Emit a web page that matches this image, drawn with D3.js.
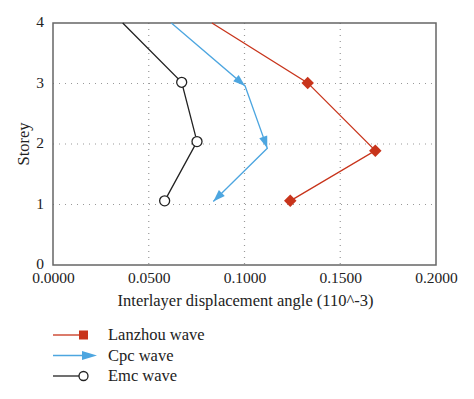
<!DOCTYPE html>
<html>
<head>
<meta charset="utf-8">
<script src="https://cdn.jsdelivr.net/npm/d3@7"></script>
<style>
  body { margin: 0; background: #fff; }
  text { font-family: "Liberation Serif", "DejaVu Serif", serif; fill: #222; }
</style>
</head>
<body>
<svg width="474" height="399"></svg>
<script>
// storeys and displacement angles
var storeys = [4, 3, 2, 1];
var lanzhou = [0.0830, 0.1330, 0.1683, 0.1239];
var lanzhouY = [4, 3.01, 1.89, 1.06];
var cpc = [0.0618, 0.1003, 0.1119, 0.0837];
var cpcY = [4, 2.96, 1.93, 1.05];
var emc = [0.0364, 0.0672, 0.0752, 0.0583];
var emcY = [4, 3.02, 2.04, 1.06];
var xTicks = [0, 0.05, 0.1, 0.15, 0.2];
var yTicks = [0, 1, 2, 3, 4];
var seriesNames = ["Lanzhou wave", "Cpc wave", "Emc wave"];

var red = "#c8341b", blue = "#4da6e0", black = "#222";

var svg = d3.select("svg");
var mLeft = 53, mRight = 436, mTop = 23, mBottom = 265;

var x = d3.scaleLinear().domain([0, 0.2]).range([mLeft, mRight]);
var y = d3.scaleLinear().domain([0, 4]).range([mBottom, mTop]);

// grid
svg.selectAll(".gx").data(xTicks.slice(1, -1)).enter().append("line")
    .attr("x1", d => x(d)).attr("x2", d => x(d))
    .attr("y1", mTop).attr("y2", mBottom)
    .attr("stroke", "#999").attr("stroke-width", 1.2)
    .attr("stroke-dasharray", "1,5");
svg.selectAll(".gy").data(yTicks.slice(1, -1)).enter().append("line")
    .attr("x1", mLeft).attr("x2", mRight)
    .attr("y1", d => y(d)).attr("y2", d => y(d))
    .attr("stroke", "#999").attr("stroke-width", 1.2)
    .attr("stroke-dasharray", "1,5");

// axes
var xAxis = svg.append("g").attr("transform", "translate(0," + mBottom + ")")
    .call(d3.axisBottom(x).tickValues(xTicks).tickFormat(d3.format(".4f")).tickSize(0).tickPadding(7));
var yAxis = svg.append("g").attr("transform", "translate(" + mLeft + ",0)")
    .call(d3.axisLeft(y).tickValues(yTicks).tickFormat(d3.format("d")).tickSize(0).tickPadding(9));
[xAxis, yAxis].forEach(function(a) {
    a.select(".domain").remove();
    a.selectAll("text").style("font-size", "15.5px").attr("fill", "#222")
        .style("font-family", "'Liberation Serif', serif");
});
yAxis.selectAll("text").attr("dy", "0.25em");

// frame
svg.append("rect").attr("x", mLeft).attr("y", mTop)
    .attr("width", mRight - mLeft).attr("height", mBottom - mTop)
    .attr("fill", "none").attr("stroke", "#666").attr("stroke-width", 1.5);

svg.append("text").attr("x", (mLeft + mRight) / 2 + 1).attr("y", 306)
    .attr("text-anchor", "middle").style("font-size", "16.5px")
    .text("Interlayer displacement angle (110^-3)");
svg.append("text").attr("transform", "translate(29," + y(2) + ") rotate(-90)")
    .attr("text-anchor", "middle").style("font-size", "16.5px")
    .text("Storey");

function pts(xs, ys) {
    return xs.map(function(v, i) { return [x(v), y(ys[i])]; });
}
var line = d3.line();

// Emc
var emcPts = pts(emc, emcY);
svg.append("path").attr("d", line(emcPts)).attr("fill", "none")
    .attr("stroke", black).attr("stroke-width", 1.3);
svg.selectAll(".emc").data(emcPts.slice(1)).enter().append("circle")
    .attr("cx", d => d[0]).attr("cy", d => d[1]).attr("r", 5)
    .attr("fill", "#fff").attr("stroke", black).attr("stroke-width", 1.3);

// Cpc with arrowheads pointing along the path
var cpcPts = pts(cpc, cpcY);
svg.append("path").attr("d", line(cpcPts)).attr("fill", "none")
    .attr("stroke", blue).attr("stroke-width", 1.3);
for (var i = 1; i < cpcPts.length; i++) {
    var p0 = cpcPts[i - 1], p1 = cpcPts[i];
    var ang = Math.atan2(p1[1] - p0[1], p1[0] - p0[0]) * 180 / Math.PI;
    svg.append("path").attr("d", "M0,0L-12,-4.2L-12,4.2Z")
        .attr("transform", "translate(" + p1[0] + "," + p1[1] + ") rotate(" + ang + ")")
        .attr("fill", blue);
}

// Lanzhou
var lzPts = pts(lanzhou, lanzhouY);
svg.append("path").attr("d", line(lzPts)).attr("fill", "none")
    .attr("stroke", red).attr("stroke-width", 1.3);
svg.selectAll(".lz").data(lzPts.slice(1)).enter().append("path")
    .attr("d", d3.symbol().type(d3.symbolSquare).size(78))
    .attr("transform", d => "translate(" + d[0] + "," + d[1] + ") rotate(45)")
    .attr("fill", red);

// legend
var ly = [335, 355.5, 376];
var lg = svg.append("g");
seriesNames.forEach(function(name, i) {
    var col = [red, blue, black][i];
    lg.append("line").attr("x1", 53).attr("x2", i == 1 ? 90 : 80)
        .attr("y1", ly[i]).attr("y2", ly[i])
        .attr("stroke", col).attr("stroke-width", 1.3);
    if (i == 0) {
        lg.append("rect").attr("x", 79).attr("y", ly[i] - 4.5)
            .attr("width", 9).attr("height", 9).attr("fill", red);
    } else if (i == 1) {
        lg.append("path").attr("d", "M97,0L82,-4.5L82,4.5Z")
            .attr("transform", "translate(0," + ly[i] + ")").attr("fill", blue);
    } else {
        lg.append("circle").attr("cx", 83.5).attr("cy", ly[i]).attr("r", 4.5)
            .attr("fill", "#fff").attr("stroke", black).attr("stroke-width", 1.3);
    }
    lg.append("text").attr("x", 108).attr("y", ly[i] + 5)
        .style("font-size", "16.5px").text(name);
});
</script>
</body>
</html>
